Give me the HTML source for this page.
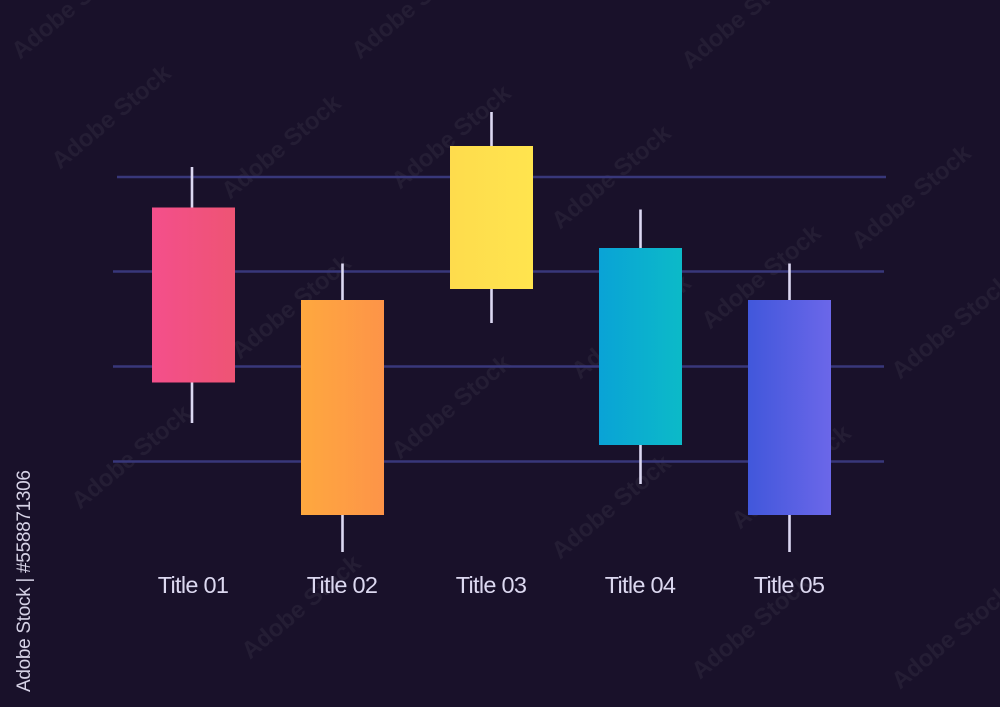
<!DOCTYPE html>
<html>
<head>
<meta charset="utf-8">
<style>
  html, body { margin:0; padding:0; }
  body { width:1000px; height:707px; background:#19112a; overflow:hidden; }
  svg { display:block; }
</style>
</head>
<body>
<svg width="1000" height="707" viewBox="0 0 1000 707" xmlns="http://www.w3.org/2000/svg">
  <defs>
    <linearGradient id="g1" x1="0" x2="1" y1="0" y2="0">
      <stop offset="0" stop-color="#f44f8b"/>
      <stop offset="1" stop-color="#ee5474"/>
    </linearGradient>
    <linearGradient id="g2" x1="0" x2="1" y1="0" y2="0">
      <stop offset="0" stop-color="#fea83f"/>
      <stop offset="1" stop-color="#fd9448"/>
    </linearGradient>
    <linearGradient id="g3" x1="0" x2="1" y1="0" y2="0">
      <stop offset="0" stop-color="#fedc4d"/>
      <stop offset="1" stop-color="#ffe44e"/>
    </linearGradient>
    <linearGradient id="g4" x1="0" x2="1" y1="0" y2="0">
      <stop offset="0" stop-color="#0aa3d6"/>
      <stop offset="1" stop-color="#0cbac8"/>
    </linearGradient>
    <linearGradient id="g5" x1="0" x2="1" y1="0" y2="0">
      <stop offset="0" stop-color="#4157db"/>
      <stop offset="1" stop-color="#6b67e9"/>
    </linearGradient>
  </defs>

  <rect width="1000" height="707" fill="#19112a"/>

  <!-- faint watermarks -->
  <g font-family="Liberation Sans, sans-serif" font-weight="bold" font-size="24" fill="#ffffff" fill-opacity="0.05">
    <text transform="translate(230,200) rotate(-40)">Adobe Stock</text>
    <text transform="translate(400,190) rotate(-40)">Adobe Stock</text>
    <text transform="translate(560,230) rotate(-40)">Adobe Stock</text>
    <text transform="translate(710,330) rotate(-40)">Adobe Stock</text>
    <text transform="translate(240,360) rotate(-40)">Adobe Stock</text>
    <text transform="translate(400,460) rotate(-40)">Adobe Stock</text>
    <text transform="translate(580,380) rotate(-40)">Adobe Stock</text>
    <text transform="translate(740,530) rotate(-40)">Adobe Stock</text>
    <text transform="translate(80,510) rotate(-40)">Adobe Stock</text>
    <text transform="translate(250,660) rotate(-40)">Adobe Stock</text>
    <text transform="translate(560,560) rotate(-40)">Adobe Stock</text>
    <text transform="translate(860,250) rotate(-40)">Adobe Stock</text>
    <text transform="translate(900,380) rotate(-40)">Adobe Stock</text>
    <text transform="translate(60,170) rotate(-40)">Adobe Stock</text>
    <text transform="translate(700,680) rotate(-40)">Adobe Stock</text>
    <text transform="translate(900,690) rotate(-40)">Adobe Stock</text>
    <text transform="translate(20,60) rotate(-40)">Adobe Stock</text>
    <text transform="translate(360,60) rotate(-40)">Adobe Stock</text>
    <text transform="translate(690,70) rotate(-40)">Adobe Stock</text>
  </g>

  <!-- gridlines -->
  <g stroke="#38377a" stroke-width="2.5">
    <line x1="117" y1="177" x2="886" y2="177"/>
    <line x1="113" y1="271.5" x2="884" y2="271.5"/>
    <line x1="113" y1="366.5" x2="884" y2="366.5"/>
    <line x1="113" y1="461.5" x2="884" y2="461.5"/>
  </g>

  <!-- wicks -->
  <g stroke="#dcd8f2" stroke-width="2.6">
    <line x1="192" y1="167" x2="192" y2="423"/>
    <line x1="342.5" y1="263.5" x2="342.5" y2="552"/>
    <line x1="491.5" y1="112" x2="491.5" y2="323"/>
    <line x1="640.5" y1="209.5" x2="640.5" y2="484"/>
    <line x1="789.5" y1="263.5" x2="789.5" y2="552"/>
  </g>

  <!-- bodies -->
  <rect x="152" y="207.5" width="83" height="175" fill="url(#g1)"/>
  <rect x="301" y="300" width="83" height="215" fill="url(#g2)"/>
  <rect x="450" y="146" width="83" height="143" fill="url(#g3)"/>
  <rect x="599" y="248" width="83" height="197" fill="url(#g4)"/>
  <rect x="748" y="300" width="83" height="215" fill="url(#g5)"/>

  <!-- labels -->
  <g font-family="Liberation Sans, sans-serif" font-size="23.5" fill="#dcd8f0" text-anchor="middle" letter-spacing="-0.7">
    <text x="193" y="593">Title 01</text>
    <text x="342" y="593">Title 02</text>
    <text x="491" y="593">Title 03</text>
    <text x="640" y="593">Title 04</text>
    <text x="789" y="593">Title 05</text>
  </g>

  <!-- vertical credit -->
  <text transform="translate(30,692) rotate(-90)" font-family="Liberation Sans, sans-serif" font-size="19" fill="#d6d2e6" letter-spacing="-0.3">Adobe Stock | #558871306</text>
</svg>
</body>
</html>
